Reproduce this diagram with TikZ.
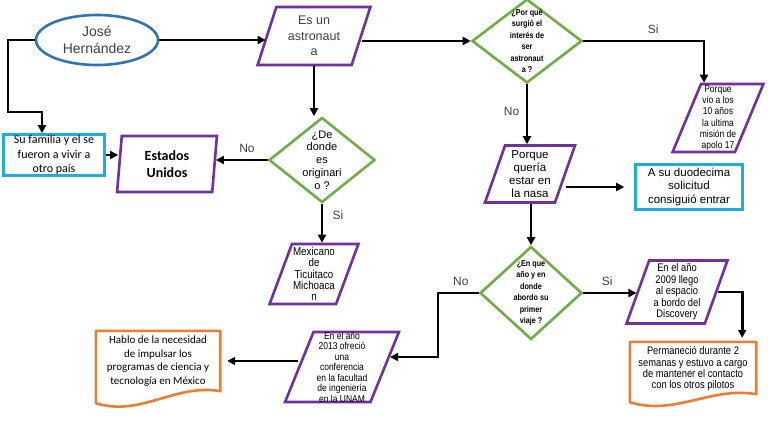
\documentclass[tikz,border=0pt]{standalone}
\usepackage{fontspec}
\setmainfont{Liberation Sans}
\newfontfamily\narrowfont[FakeStretch=0.85]{Liberation Sans}
\newfontfamily\calibrifont{Carlito}
\usetikzlibrary{shapes.geometric,arrows.meta}
\definecolor{ovalBlue}{HTML}{2E75B6}
\definecolor{dataPurple}{HTML}{7030A0}
\definecolor{askGreen}{HTML}{70AD47}
\definecolor{boxCyan}{HTML}{1CADE4}
\definecolor{docOrange}{HTML}{ED7D31}
\definecolor{textGray}{HTML}{404040}

\begin{document}
\begin{tikzpicture}[
      x=1pt, y=-1pt,
      oval/.style={
        ellipse, draw=ovalBlue, line width=2.6pt, minimum width=122, minimum height=50,
        inner sep=0pt, align=center, text=textGray, font=\fontsize{14}{17}\selectfont
      },
      datanode/.style={
        trapezium, trapezium left angle=70, trapezium right angle=110, trapezium stretches=true,
        draw=dataPurple, line width=2.6pt, inner sep=-12pt, align=center
      },
      asknode/.style={diamond, draw=askGreen, line width=2.6pt, inner sep=-25pt, align=center},
      boxnode/.style={rectangle, draw=boxCyan, line width=2.6pt, inner sep=0pt, align=center},
      docnode/.style={rectangle, inner sep=0pt, align=center},
      docline/.style={draw=docOrange, line width=2.6pt, line join=round},
      smallask/.style={font=\narrowfont\bfseries\fontsize{8.5}{11.5}\selectfont},
      flowarr/.style={-{Triangle[length=8pt, width=8pt]}, line width=2.8pt},
      yesno/.style={font=\fontsize{12}{12}\selectfont, text=textGray}
    ]
      \fill[white] (0,0) rectangle (768,433);
      \useasboundingbox (0,0) rectangle (768,433);

      \node[oval] (jose) at (97,40) {José\\Hernández};
      \node[datanode, minimum width=113, minimum height=58, trapezium left angle=66, trapezium right angle=114,
        text=textGray, font=\fontsize{12.5}{15.5}\selectfont] (astro) at (314,36) {Es un\\astronaut\\a};
      \node[asknode, smallask, minimum width=110, minimum height=84] (porque) at (527,41)
        {¿Por qué\\surgió el\\interés de\\ser\\astronaut\\a ?};
      \node[datanode, minimum width=91, minimum height=68, trapezium left angle=76, trapezium right angle=104,
        font=\narrowfont\fontsize{10}{11.3}\selectfont] (apolo) at (718,118)
        {Porque\\vio a los\\10 años\\la ultima\\misión de\\apolo 17};
      \node[datanode, minimum width=90, minimum height=57, trapezium left angle=73, trapezium right angle=107,
        font=\fontsize{11.5}{13}\selectfont] (nasa) at (530,174) {Porque\\quería\\estar en\\la nasa};
      \node[boxnode, minimum width=107, minimum height=45, font=\fontsize{11.5}{13.5}\selectfont] (duodecima) at (689,187)
        {A su duodecima\\solicitud\\consiguió entrar};
      \node[asknode, smallask, minimum width=102, minimum height=93] (enque) at (531,293)
        {¿En que\\año y en\\donde\\abordo su\\primer\\viaje ?};
      \node[datanode, minimum width=101, minimum height=63, trapezium left angle=74, trapezium right angle=106,
        font=\narrowfont\fontsize{11}{11.5}\selectfont] (discovery) at (677,292)
        {En el año\\2009 llego\\al espacio\\a bordo del\\Discovery};
      \node[docnode, minimum width=126, minimum height=46, font=\narrowfont\fontsize{11}{11.3}\selectfont] (permanecio) at (693,369)
        {Permaneció durante 2\\semanas y estuvo a cargo\\de mantener el contacto\\con los otros pilotos};
      \node[datanode, minimum width=114, minimum height=70, trapezium left angle=74, trapezium right angle=106,
        font=\narrowfont\fontsize{10}{10.5}\selectfont] (unam) at (342,367)
        {En el año\\2013 ofreció\\una\\conferencia\\en la facultad\\de ingeniería\\en la UNAM};
      \node[docnode, minimum width=124, minimum height=60, font=\calibrifont\fontsize{11}{13.5}\selectfont] (hablo) at (158,361)
        {Hablo de la necesidad\\de impulsar los\\programas de ciencia y\\tecnología en México};
      \node[datanode, minimum width=89, minimum height=60, trapezium left angle=73, trapezium right angle=107,
        font=\narrowfont\fontsize{11.5}{11.3}\selectfont] (mexicano) at (314,274) {Mexicano\\de\\Ticuitaco\\Michoaca\\n};
      \node[asknode, minimum width=106, minimum height=85, font=\fontsize{11}{12.8}\selectfont] (dedonde) at (322,160)
        {¿De\\donde\\es\\originari\\o ?};
      \node[datanode, minimum width=100, minimum height=56, font=\calibrifont\bfseries\fontsize{14}{17}\selectfont] (eeuu) at (167,164)
        {Estados\\Unidos};
      \node[boxnode, minimum width=101, minimum height=41, font=\calibrifont\fontsize{12}{14.5}\selectfont] (familia) at (54,155)
        {Su familia y el se\\fueron a vivir a\\otro país};

      \coordinate (famturn) at (8,112);
      \coordinate (nobend) at (438,357);

      \draw[docline] ([yshift=-12pt]hablo.south west) -- (hablo.north west) -- (hablo.north east) -- (hablo.south east)
        .. controls +(-45,-8) and +(45,14) .. ([yshift=-12pt]hablo.south west) -- cycle;
      \draw[docline] ([yshift=-10pt]permanecio.south west) -- ([yshift=4pt]permanecio.north west)
        -- ([yshift=4pt]permanecio.north east) -- ([yshift=-2pt]permanecio.south east)
        .. controls +(-45,-8) and +(45,14) .. ([yshift=-10pt]permanecio.south west) -- cycle;

      \draw[flowarr] (jose.east) -- (jose.east -| astro.west);
      \draw[flowarr] (astro.east |- porque.west) -- (porque.west);
      \draw[flowarr] (porque.east) -| node[yesno, pos=0.29, above=3pt] {Si} ([xshift=-14pt]apolo.north);
      \draw[flowarr] (porque.south) -- node[yesno, pos=0.45, left=3pt] {No} (porque.south |- nasa.north);
      \draw[flowarr, shorten >=10pt] (duodecima.west -| nasa.east) -- (duodecima.west);
      \draw[flowarr] (enque.north |- nasa.south) -- (enque.north);
      \draw[flowarr] (enque.east) -- node[yesno, pos=0.45, above=3pt] {Si} (enque.east -| discovery.west);
      \draw[flowarr, shorten >=4pt] (discovery.east) -| ([xshift=-14pt, yshift=4pt]permanecio.north east);
      \draw[flowarr, shorten >=4pt] (enque.west) -| node[yesno, pos=0.22, above=3pt] {No} (nobend) -- (nobend -| unam.east);
      \draw[flowarr, shorten >=7pt] (hablo.east -| unam.west) -- (hablo.east);
      \draw[flowarr] (astro.center |- astro.south) -- (astro.center |- dedonde.north);
      \draw[flowarr] (dedonde.south) -- node[yesno, pos=0.3, right=6pt] {Si} (dedonde.south |- mexicano.north);
      \draw[flowarr] (dedonde.west) -- node[yesno, pos=0.4, above=3pt] {No} (dedonde.west -| eeuu.east);
      \draw[flowarr] (familia.east) -- (familia.east -| eeuu.west);
      \draw[flowarr] (jose.west) -| (famturn) -| ([xshift=-12pt]familia.north);
    \end{tikzpicture}
\end{document}
